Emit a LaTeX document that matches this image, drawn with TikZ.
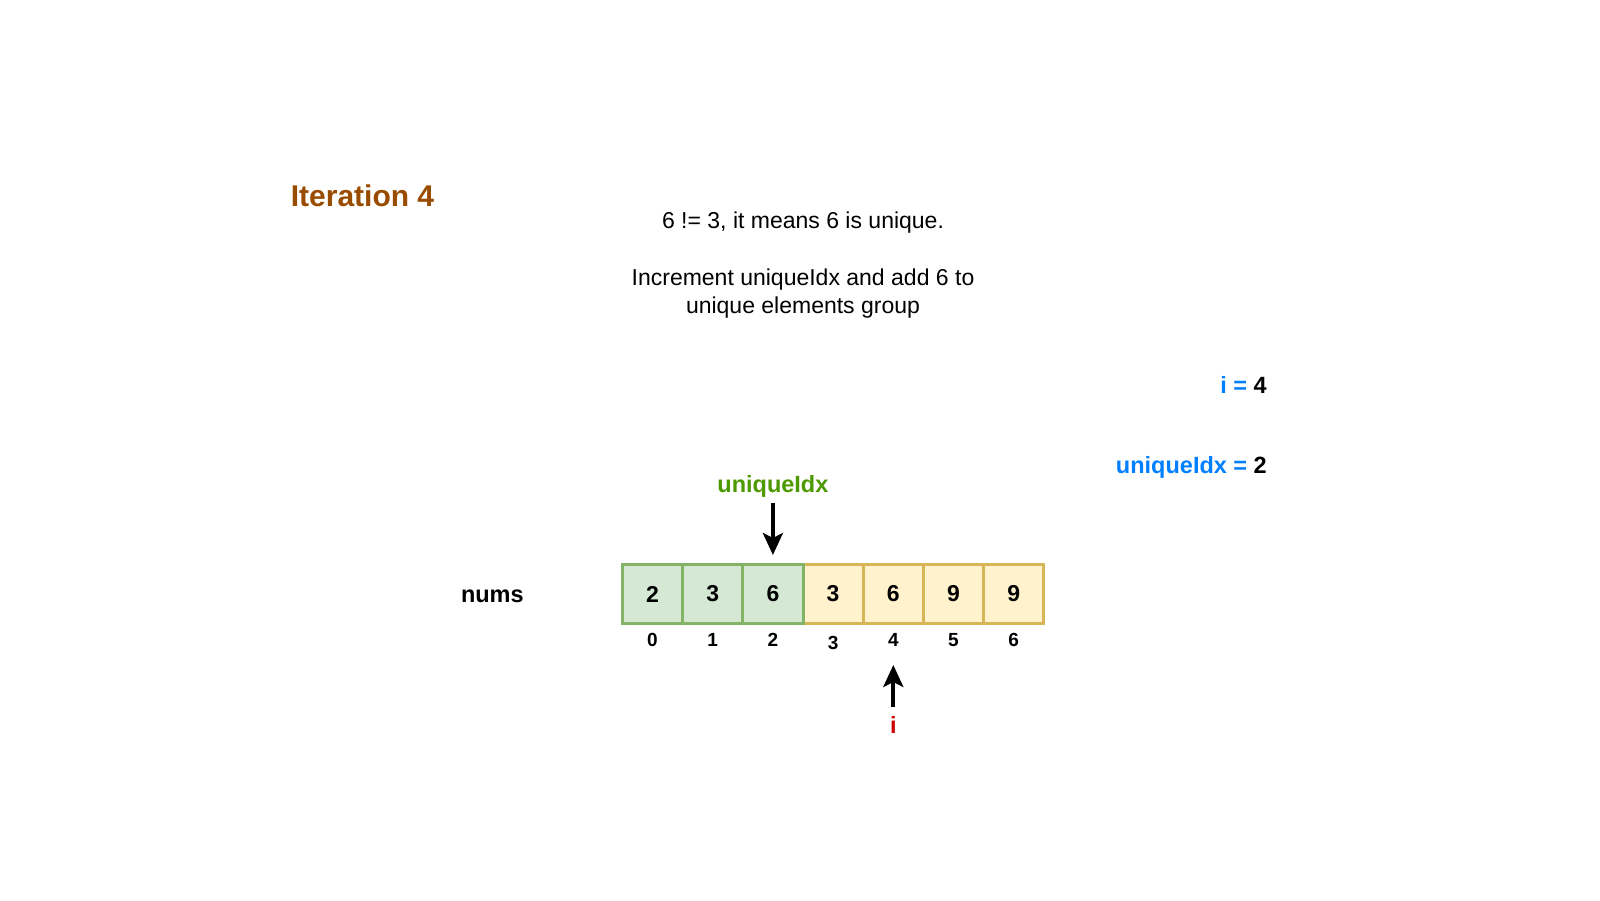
\documentclass[tikz,border=0pt]{standalone}
\usepackage{fontspec}
\setmainfont{Liberation Sans}
\usepackage{xcolor}
\usetikzlibrary{arrows.meta, positioning}
\definecolor{colUniqFill}{HTML}{D5E8D4}
\definecolor{colUniqLine}{HTML}{82B366}
\definecolor{colRestFill}{HTML}{FFF2CC}
\definecolor{colRestLine}{HTML}{D6B656}
\definecolor{colTitle}{HTML}{994C00}
\definecolor{colUidx}{HTML}{4D9900}
\definecolor{colVar}{HTML}{007FFF}
\definecolor{colI}{HTML}{CC0000}

\begin{document}
\begin{tikzpicture}[
  x=1pt, y=-1pt,
  cell/.style={rectangle, draw, line width=3pt, minimum width=60.2pt,
               minimum height=59pt, inner sep=0pt,
               font=\fontsize{23}{27}\selectfont\bfseries},
  uniq/.style={cell, fill=colUniqFill, draw=colUniqLine},
  rest/.style={cell, fill=colRestFill, draw=colRestLine},
  idx/.style={inner sep=0pt, font=\fontsize{19}{22}\selectfont\bfseries},
  lbl/.style={inner sep=0pt, font=\fontsize{23.5}{28}\selectfont\bfseries},
  note/.style={inner sep=0pt, align=center, font=\fontsize{23}{27.8}\selectfont},
  ptr/.style={-{Stealth[length=22pt, width=20pt, inset=5pt]}, line width=4pt},
]
\useasboundingbox (0,0) rectangle (1600,900);

\node[lbl, text=colTitle, font=\fontsize{30}{36}\selectfont\bfseries] (title) at (362.5,196) {Iteration 4};
\node[note] (cond) at (803,223) {6 != 3, it means 6 is unique.};
\node[note, below=35pt of cond] (stepnote) {Increment uniqueIdx and add 6 to\\unique elements group};

% array cells
\foreach \v [count=\k from 3] in {3,6,9,9}
  \node[rest] (c\k) at ({652.5+60.2*\k},594) {\v};
\foreach \v [count=\k from 0] in {2,3,6}
  \node[uniq] (c\k) at ({652.5+60.2*\k},594) {\v};
\foreach \k/\gap in {0/8,1/8,2/8,3/11,4/8,5/8,6/8}
  \node[idx, below=\gap pt of c\k] (n\k) {\k};

\node[lbl, left=97pt of c0, yshift=-2pt] (numslbl) {nums};

% pointers
\node[lbl, text=colUidx, above=65pt of c2] (uidx) {uniqueIdx};
\draw[ptr, shorten <=5pt, shorten >=8pt] (uidx) -- (c2);
\node[lbl, text=colI, below=70pt of n4] (ilbl) {i};
\draw[ptr, shorten <=9pt, shorten >=18.5pt] (ilbl) -- (n4);

\node[lbl, anchor=east] (ival) at (1267,385) {\textcolor{colVar}{i =} 4};
\node[lbl, anchor=east] (uval) at (1267,467) {\textcolor{colVar}{uniqueIdx =} 2};
\end{tikzpicture}
\end{document}
